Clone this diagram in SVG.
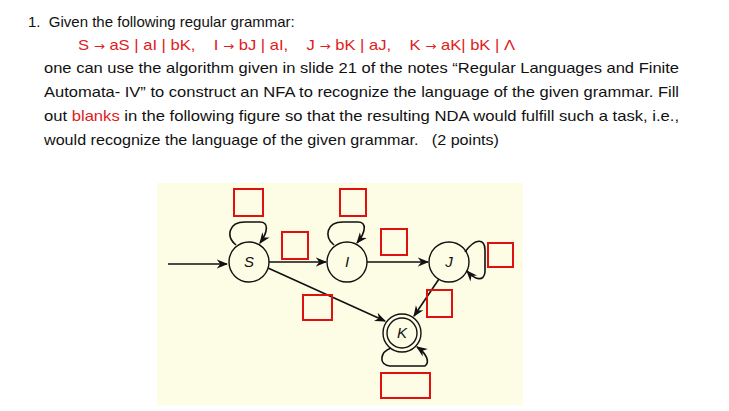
<svg xmlns="http://www.w3.org/2000/svg" width="729" height="411" viewBox="0 0 729 411">
<defs>
<style>
.t{font-family:"Liberation Sans",Arial,sans-serif;font-size:15px;fill:#111;white-space:pre}
.r{fill:#e02020}
.box{fill:none;stroke:#e01010;stroke-width:2}
.st{fill:none;stroke:#111;stroke-width:1.4}
.e{fill:none;stroke:#111;stroke-width:1.6;marker-end:url(#a)}
.lb{font-family:"Liberation Sans",Arial,sans-serif;font-size:15px;font-style:italic;fill:#111;text-anchor:middle}
</style>
<marker id="a" viewBox="0 0 10 10" refX="9" refY="5" markerWidth="7" markerHeight="7" orient="auto"><path d="M0,1 L10,5 L0,9 L3,5 z" fill="#111"/></marker>
</defs>
<rect width="729" height="411" fill="#fff"/>
<g id="text" xml:space="preserve">
<text class="t" x="28" y="27">1.  Given the following regular grammar:</text>
<text class="t r" x="78" y="50" textLength="437" lengthAdjust="spacingAndGlyphs">S <tspan font-family="DejaVu Sans" font-size="12">→</tspan> aS | aI | bK,    I <tspan font-family="DejaVu Sans" font-size="12">→</tspan> bJ | aI,    J <tspan font-family="DejaVu Sans" font-size="12">→</tspan> bK | aJ,    K <tspan font-family="DejaVu Sans" font-size="12">→</tspan> aK| bK | Λ</text>
<text class="t" x="44" y="73" textLength="635" lengthAdjust="spacingAndGlyphs">one can use the algorithm given in slide 21 of the notes “Regular Languages and Finite</text>
<text class="t" x="44" y="97" textLength="635" lengthAdjust="spacingAndGlyphs">Automata- IV” to construct an NFA to recognize the language of the given grammar. Fill</text>
<text class="t" x="44" y="121" textLength="635" lengthAdjust="spacingAndGlyphs">out <tspan class="r">blanks</tspan> in the following figure so that the resulting NDA would fulfill such a task, i.e.,</text>
<text class="t" x="44" y="145" textLength="455" lengthAdjust="spacingAndGlyphs">would recognize the language of the given grammar.   (2 points)</text>
</g>
<rect x="157" y="183" width="366" height="222" fill="#fdfde6"/>
<g id="connectors">
<path class="e" d="M168,264 L227,264"/>
<path class="e" d="M269,262 L326,262"/>
<path class="e" d="M367,262 L428,262"/>
<path class="e" d="M268,268 L385,321"/>
<path class="e" d="M439,279 L414,316"/>
<path class="e" d="M236,245 C226,237 228,222 245,222 L260,222 C269,222 268,232 260,243"/>
<path class="e" d="M334,245 C324,237 326,222 343,222 L358,222 C367,222 366,232 357,243"/>
<path class="e" d="M465,252 C475,238 485,238 485,250 L485,272 C484,282 475,280 467,271"/>
<path class="e" d="M391,348 C380,352 378,365 390,366 L425,366 C430,362 427,354 417,347"/>
</g>
<g id="S"><circle class="st" cx="249" cy="262" r="20" fill="#fdfde6"/><text class="lb" x="249" y="267">S</text></g>
<g id="I"><circle class="st" cx="347" cy="262" r="20" fill="#fdfde6"/><text class="lb" x="347" y="267">I</text></g>
<g id="J"><circle class="st" cx="449" cy="262" r="20" fill="#fdfde6"/><text class="lb" x="449" y="267">J</text></g>
<g id="K"><circle class="st" cx="402" cy="333" r="19" fill="#fdfde6"/><circle class="st" cx="402" cy="333" r="15"/><text class="lb" x="402" y="338">K</text></g>
<g id="blanks">
<rect class="box" x="234" y="189" width="29" height="27"/>
<rect class="box" x="340" y="189" width="26" height="27"/>
<rect class="box" x="282" y="232" width="26" height="27"/>
<rect class="box" x="381" y="229" width="26" height="26"/>
<rect class="box" x="488" y="243" width="25" height="24"/>
<rect class="box" x="303" y="295" width="29" height="25"/>
<rect class="box" x="427" y="290" width="25" height="27"/>
<rect class="box" x="381" y="373" width="49" height="25"/>
</g>
</svg>
